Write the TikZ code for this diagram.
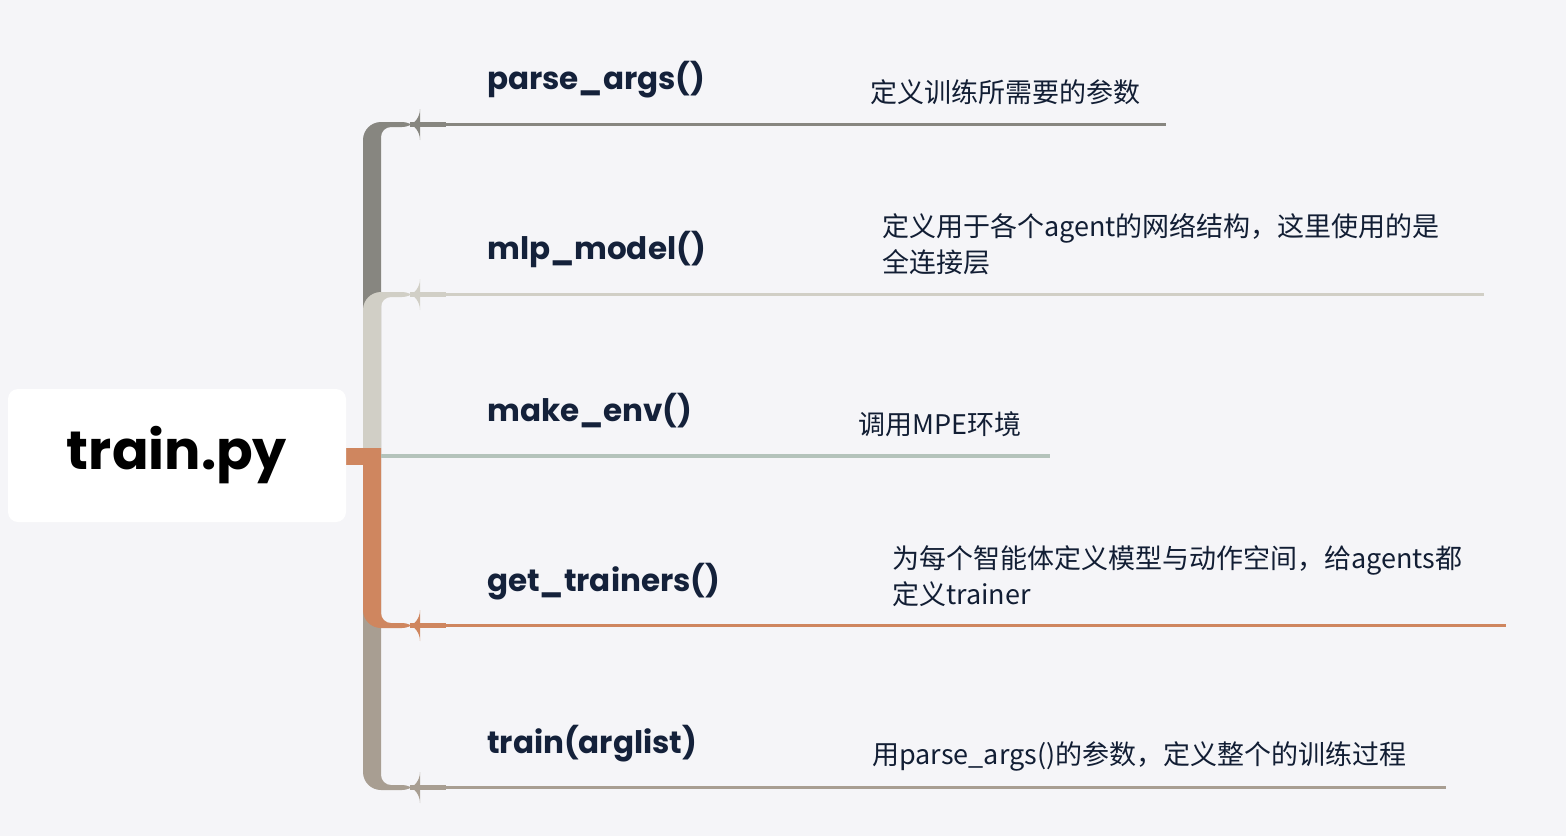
\documentclass[tikz,border=0pt]{standalone}
\usepackage{fontspec}
\setmainfont{Poppins}
\newfontfamily\cjk{Noto Sans CJK SC}
\definecolor{bg}{HTML}{F5F5F8}
\definecolor{cA}{HTML}{878680}
\definecolor{cB}{HTML}{D1CFC6}
\definecolor{cC}{HTML}{B4C3BB}
\definecolor{cD}{HTML}{CF865F}
\definecolor{cE}{HTML}{A89E92}
\definecolor{txt}{HTML}{14213A}
\begin{document}
\begin{tikzpicture}[x=1pt,y=-1pt,
  lab/.style={anchor=base west,font=\fontsize{31}{36}\selectfont\bfseries,text=txt,inner sep=0},
  desc/.style={anchor=west,align=left,font=\cjk\fontsize{27}{36}\selectfont,text=txt!90!black,inner sep=0}]
\fill[bg] (0,0) rectangle (1566,836);
\useasboundingbox (0,0) rectangle (1566,836);
% brackets
\fill[cE] (363,455) [rounded corners=18] -- (363,790) -- (420,790) -- (420,785) [rounded corners=10] -- (381,785) [sharp corners] -- (381,455) -- cycle;
\fill[cE] (410,785) rectangle (446,790);
\fill[cA] (363,455) [rounded corners=18] -- (363,122) -- (420,122) -- (420,127) [rounded corners=10] -- (381,127) [sharp corners] -- (381,455) -- cycle;
\fill[cA] (410,122) rectangle (446,127);
\fill[cB] (363,455) [rounded corners=18] -- (363,292) -- (420,292) -- (420,297) [rounded corners=10] -- (381,297) [sharp corners] -- (381,455) -- cycle;
\fill[cB] (410,292) rectangle (446,297);
\fill[cD] (363,448) [rounded corners=18] -- (363,628) -- (420,628) -- (420,623) [rounded corners=10] -- (381,623) [sharp corners] -- (381,448) -- cycle;
\fill[cD] (410,623) rectangle (446,628);
\fill[cD] (346,448) rectangle (381,465);
% root
\node[fill=white,rounded corners=10,minimum width=338,minimum height=133,inner sep=0,
  font=\fontsize{54}{60}\selectfont\bfseries,text=black] (root) at (177,455.5) {train.py};
% branch endpoints
\coordinate (a0) at (446,124.5); \coordinate (a1) at (1166,124.5);
\coordinate (b0) at (446,294.5); \coordinate (b1) at (1484,294.5);
\coordinate (c0) at (381,456); \coordinate (c1) at (1050,456);
\coordinate (d0) at (446,625.5); \coordinate (d1) at (1506,625.5);
\coordinate (e0) at (446,787.5); \coordinate (e1) at (1446,787.5);
\draw[cA,line width=3] (a0) -- (a1);
\draw[cB,line width=3] (b0) -- (b1);
\draw[cC,line width=4] (c0) -- (c1);
\draw[cD,line width=3] (d0) -- (d1);
\draw[cE,line width=3] (e0) -- (e1);
% labels
\node[lab] (la) at (487,89) {parse\_args()};
\node[lab] (lb) at (487,259) {mlp\_model()};
\node[lab] (lc) at (487,421) {make\_env()};
\node[lab] (ld) at (487,591) {get\_trainers()};
\node[lab] (le) at (487,753) {train(arglist)};
\node[desc] (da) at (870,92) {定义训练所需要的参数};
\node[desc] (db) at (882,244) {定义用于各个agent的网络结构，这里使用的是\\全连接层};
\node[desc] (dc) at (858,424) {调用MPE环境};
\node[desc] (dd) at (892,576) {为每个智能体定义模型与动作空间，给agents都\\定义trainer};
\node[desc] (de) at (872,756) {用parse\_args()的参数，定义整个的训练过程};
\end{tikzpicture}
\end{document}
